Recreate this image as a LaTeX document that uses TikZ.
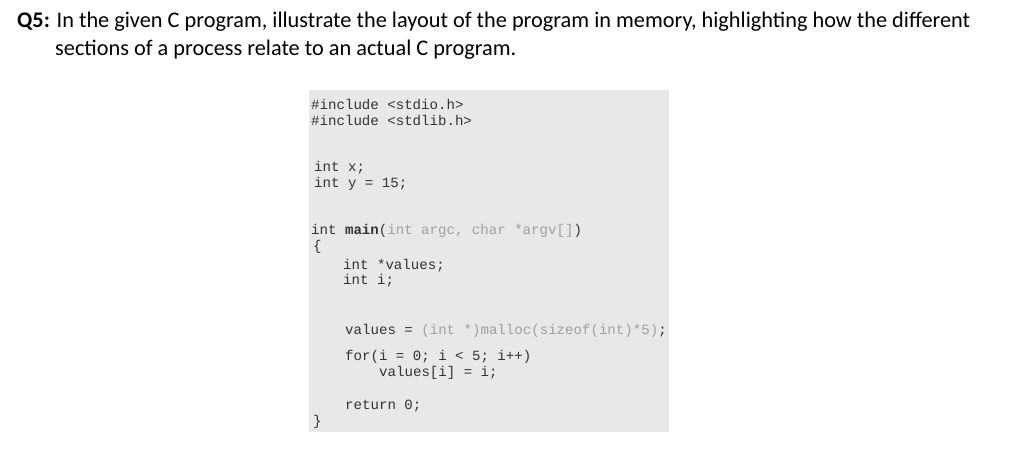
\documentclass[tikz,border=0pt]{standalone}
\usepackage{fontspec}
\setmainfont{Carlito}
\newfontfamily\codefont{Liberation Mono}
\definecolor{boxgray}{HTML}{E8E8E8}
\definecolor{codedark}{HTML}{333333}
\definecolor{codelight}{HTML}{A0A0A0}
\begin{document}
\begin{tikzpicture}[x=1pt,y=-1pt,
  code/.style={anchor=west,inner sep=0pt,font=\codefont\fontsize{14.1}{15}\selectfont,text=codedark},
  title/.style={anchor=west,inner sep=0pt,font=\fontsize{22.3}{24}\selectfont}]
\useasboundingbox (0,0) rectangle (1015,461);
\fill[boxgray] (309,90) rectangle (669,432);
\node[title] (t1) at (17,22) {\textbf{Q5:} In the given C program, illustrate the layout of the program in memory, highlighting how the different};
\node[title] (t2) at (55,50) {sections of a process relate to an actual C program.};
\node[code] (l1) at (311,104) {\#include <stdio.h>};
\node[code] (l2) at (311,120) {\#include <stdlib.h>};
\node[code] (l3) at (314,168) {int x;};
\node[code] (l4) at (314,184) {int y = 15;};
\node[code] (l5) at (311,231) {int \textbf{main}(\textcolor{codelight}{int argc, char *argv[]})};
\node[code] (l6) at (313,247) {\{};
\node[code] (l7) at (343,266) {int *values;};
\node[code] (l8) at (343,281) {int i;};
\node[code] (l9) at (345,331) {values = \textcolor{codelight}{(int *)malloc(sizeof(int)*5)};};
\node[code] (l10) at (345,357) {for(i = 0; i < 5; i++)};
\node[code] (l11) at (379,373) {values[i] = i;};
\node[code] (l12) at (345,406) {return 0;};
\node[code] (l13) at (313,422) {\}};
\end{tikzpicture}
\end{document}
